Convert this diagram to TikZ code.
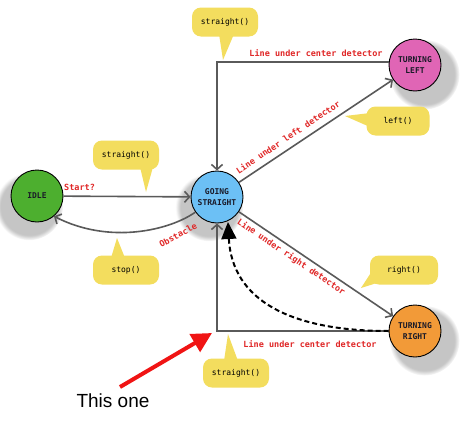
\documentclass[tikz,border=0pt]{standalone}
\usepackage{fontspec}
\setmainfont{Liberation Sans}
\newfontfamily\monofont{DejaVu Sans Mono}
\usetikzlibrary{arrows.meta,shadows}
\definecolor{idlegreen}{HTML}{4DAF2F}
\definecolor{goblue}{HTML}{6CC0F5}
\definecolor{tlpink}{HTML}{E065B5}
\definecolor{trorange}{HTML}{F29A38}
\definecolor{bubbley}{HTML}{F3DD5E}
\definecolor{edgegray}{HTML}{5A5A5A}
\definecolor{lblred}{HTML}{E02828}
\definecolor{arrred}{HTML}{F01414}
\definecolor{nodetext}{HTML}{1A1A28}
\begin{document}
\begin{tikzpicture}[x=1pt,y=-1pt,
 state/.style={circle, draw=black, line width=0.9pt, minimum size=52pt, inner sep=0pt, align=center,
   text=nodetext, font=\monofont\bfseries\fontsize{8}{11}\selectfont},
 edge/.style={draw=edgegray, line width=1.6pt, -{Straight Barb[length=5pt,width=11pt]}},
 lbl/.style={text=lblred, font=\monofont\bfseries\fontsize{8.5}{10}\selectfont, inner sep=1pt},
 bubble/.style={fill=bubbley, rounded corners=9pt, minimum width=66pt, minimum height=29pt, inner sep=2pt,
   font=\monofont\fontsize{8}{10}\selectfont},
 tail/.style={fill=bubbley},
 shl/.style={circular drop shadow={shadow xshift=-6pt, shadow yshift=-8pt, shadow scale=1.3, opacity=0.45}},
 shr/.style={circular drop shadow={shadow xshift=7pt, shadow yshift=-7pt, shadow scale=1.35, opacity=0.45}},
]
\useasboundingbox (0,0) rectangle (474,434);
\fill[white] (0,0) rectangle (474,434);

% states
\node[state, fill=idlegreen, shl] (i) at (37,196) {IDLE};
\node[state, fill=goblue, shl] (g) at (217,197) {GOING\\STRAIGHT};
\node[state, fill=tlpink, shr] (tl) at (415,65) {TURNING\\LEFT};
\node[state, fill=trorange, shr] (tr) at (415,331) {TURNING\\RIGHT};

% transitions
\draw[edge] (i) -- (g);
\draw[edge] (g.215) .. controls (170,230) and (110,245) .. (i.-50);
\draw[edge] (tl.173) -| (g.north);
\draw[edge] (g) -- (tl);
\draw[edge] (g) -- (tr);
\draw[edge] (tr.west) -| (g.south);
\draw[line width=2pt, dash pattern=on 5pt off 3pt, -{Triangle[length=17pt,width=15pt]}]
  (tr.west) .. controls (290,331) and (232,300) .. (228,222);

% labels
\node[lbl, anchor=west] at (63,187) {Start?};
\node[lbl, rotate=28] at (178,235) {Obstacle};
\node[lbl] at (316,53) {Line under center detector};
\node[lbl, rotate=34] at (288,137) {Line under left detector};
\node[lbl, rotate=-34] at (291,257) {Line under right detector};
\node[lbl] at (310,344) {Line under center detector};

% bubbles
\node[bubble] (b1) at (225,22) {straight()};
\fill[tail] (219,34) -- (223,60) -- (234,34) -- cycle;
\node[bubble] (b2) at (126,155) {straight()};
\fill[tail] (140,167) -- (146,192) -- (153,167) -- cycle;
\node[bubble] (b3) at (126,270) {stop()};
\fill[tail] (111,258) -- (117,238) -- (125,258) -- cycle;
\node[bubble, minimum width=63pt] (b4) at (398,121) {left()};
\fill[tail] (370,113) -- (345,116) -- (370,127) -- cycle;
\node[bubble, minimum width=68pt] (b5) at (404,270) {right()};
\fill[tail] (374,268) -- (361,288) -- (380,282) -- cycle;
\node[bubble] (b6) at (236,373) {straight()};
\fill[tail] (224,361) -- (228,334) -- (238,361) -- cycle;

% annotation
\node[font=\fontsize{19}{22}\selectfont, inner sep=0pt] (t) at (113,401) {This one};
\coordinate (ra) at (120,387);
\coordinate (rb) at (212,333);
\draw[arrred, line width=4pt, -{Triangle[length=20pt,width=20pt]}] (ra) -- (rb);
\end{tikzpicture}
\end{document}
